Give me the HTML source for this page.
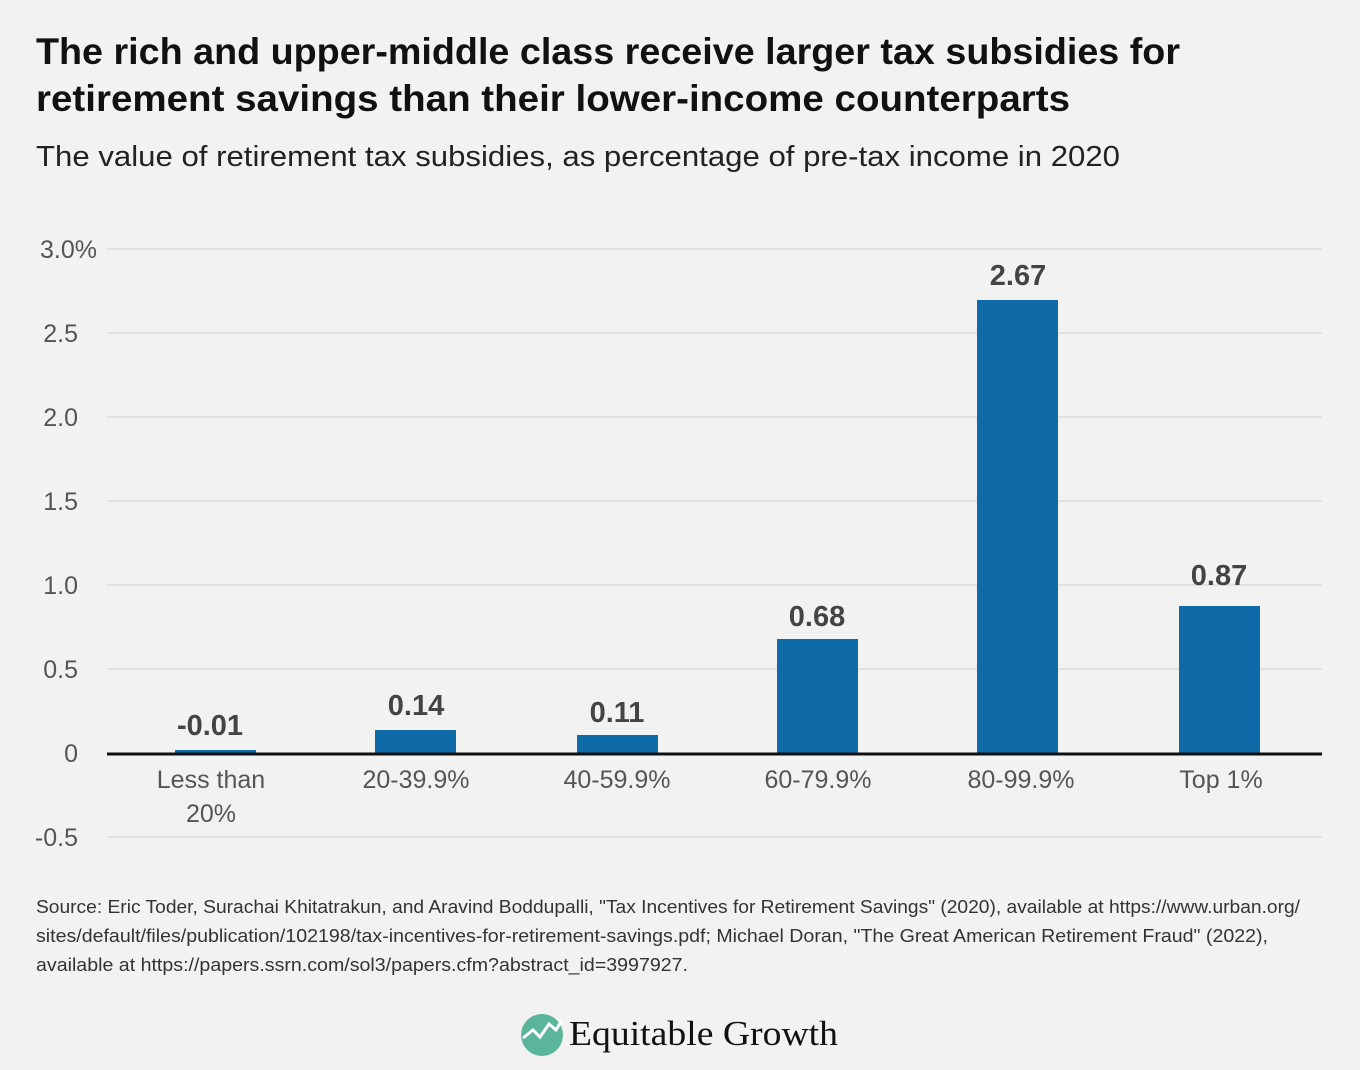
<!DOCTYPE html>
<html><head><meta charset="utf-8"><style>
body{margin:0;background:#f2f2f2;}
svg{display:block;font-family:"Liberation Sans",sans-serif;}
</style></head><body>
<svg width="1360" height="1070" viewBox="0 0 1360 1070">
<rect width="1360" height="1070" fill="#f2f2f2"/>
<text x="36" y="64" font-size="37" font-weight="bold" fill="#111" textLength="1144" lengthAdjust="spacingAndGlyphs">The rich and upper-middle class receive larger tax subsidies for</text>
<text x="36" y="111" font-size="37" font-weight="bold" fill="#111" textLength="1034" lengthAdjust="spacingAndGlyphs">retirement savings than their lower-income counterparts</text>
<text x="36" y="166" font-size="29" fill="#222" textLength="1084" lengthAdjust="spacingAndGlyphs">The value of retirement tax subsidies, as percentage of pre-tax income in 2020</text>
<g stroke="#dcdcdc" stroke-width="1.5">
<line x1="107" x2="1322" y1="249" y2="249"/><line x1="107" x2="1322" y1="333" y2="333"/>
<line x1="107" x2="1322" y1="417" y2="417"/><line x1="107" x2="1322" y1="501" y2="501"/>
<line x1="107" x2="1322" y1="585" y2="585"/><line x1="107" x2="1322" y1="669" y2="669"/>
<line x1="107" x2="1322" y1="837" y2="837"/>
</g>
<g font-size="25" fill="#555" text-anchor="end">
<text x="97" y="258">3.0%</text><text x="78" y="342">2.5</text><text x="78" y="426">2.0</text>
<text x="78" y="510">1.5</text><text x="78" y="594">1.0</text><text x="78" y="678">0.5</text>
<text x="78" y="762">0</text><text x="78" y="846">-0.5</text>
</g>
<g fill="#0f6aa8">
<rect x="175" y="750" width="81" height="3"/>
<rect x="375" y="730" width="81" height="23"/>
<rect x="577" y="735" width="81" height="18"/>
<rect x="777" y="639" width="81" height="114"/>
<rect x="977" y="300" width="81" height="453"/>
<rect x="1179" y="606" width="81" height="147"/>
</g>
<line x1="107" x2="1322" y1="754" y2="754" stroke="#111" stroke-width="3"/>
<g font-size="29" font-weight="bold" fill="#444" text-anchor="middle">
<text x="210" y="735">-0.01</text><text x="416" y="715">0.14</text><text x="617" y="722">0.11</text>
<text x="817" y="626">0.68</text><text x="1018" y="285">2.67</text><text x="1219" y="585">0.87</text>
</g>
<g font-size="25" fill="#555" text-anchor="middle">
<text x="211" y="788">Less than</text><text x="211" y="822">20%</text>
<text x="416" y="788">20-39.9%</text><text x="617" y="788">40-59.9%</text>
<text x="818" y="788">60-79.9%</text><text x="1021" y="788">80-99.9%</text><text x="1221" y="788">Top 1%</text>
</g>
<g font-size="18" fill="#333">
<text x="36" y="913" textLength="1264" lengthAdjust="spacingAndGlyphs">Source: Eric Toder, Surachai Khitatrakun, and Aravind Boddupalli, "Tax Incentives for Retirement Savings" (2020), available at https://www.urban.org/</text>
<text x="36" y="942" textLength="1232" lengthAdjust="spacingAndGlyphs">sites/default/files/publication/102198/tax-incentives-for-retirement-savings.pdf; Michael Doran, "The Great American Retirement Fraud" (2022),</text>
<text x="36" y="971" textLength="652" lengthAdjust="spacingAndGlyphs">available at https://papers.ssrn.com/sol3/papers.cfm?abstract_id=3997927.</text>
</g>
<circle cx="542" cy="1035" r="21" fill="#5bb59a"/>
<path d="M523 1038 L533 1030 L540 1037 L549 1024 L556 1030 L562 1020" stroke="#fff" stroke-width="3" fill="none"/>
<text x="569" y="1045" font-family="Liberation Serif,serif" font-size="35" fill="#111" textLength="269" lengthAdjust="spacingAndGlyphs">Equitable Growth</text>
</svg>
</body></html>
